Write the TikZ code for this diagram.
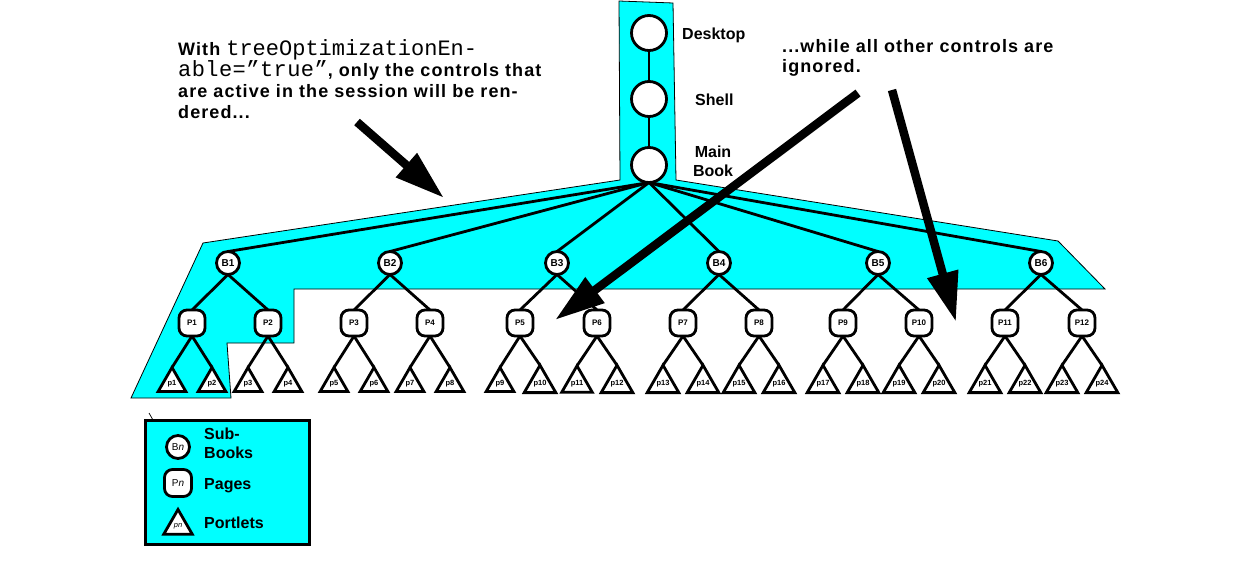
\documentclass[tikz,border=0pt]{standalone}
\usepackage{fontspec}
\setmainfont{Liberation Sans}
\setmonofont{Liberation Mono}
\newfontfamily\annotfont[LetterSpace=6]{Liberation Sans}
\newfontfamily\wmono[LetterSpace=2]{Liberation Mono}
\usetikzlibrary{shapes.geometric,arrows.meta,backgrounds}
\definecolor{cy}{RGB}{0,255,255}
\begin{document}
\begin{tikzpicture}[x=1pt,y=-1pt,
 edge/.style={line width=2.8pt},
 topnode/.style={circle,draw,line width=2.8pt,fill=white,minimum size=35pt,inner sep=0pt,outer sep=0pt},
 bnode/.style={circle,draw,line width=2.8pt,fill=white,minimum size=23pt,inner sep=0pt,outer sep=0pt,font=\fontsize{10}{10}\selectfont\bfseries},
 pnode/.style={rectangle,rounded corners=8pt,draw,line width=2.8pt,fill=white,minimum size=26pt,inner sep=0pt,outer sep=0pt,font=\fontsize{8}{8}\selectfont\bfseries},
 tnode/.style={regular polygon,regular polygon sides=3,draw,line width=2.8pt,fill=white,minimum size=32pt,inner sep=0pt,outer sep=0pt,font=\fontsize{7.5}{7.5}\selectfont\bfseries},
 lbl/.style={font=\fontsize{16}{19}\selectfont\bfseries,inner sep=0pt,anchor=base west},
 annot/.style={font=\annotfont\fontsize{18}{21}\selectfont\bfseries,inner sep=0pt,anchor=base west},
 bigarrow/.style={line width=8.5pt,-{Triangle[length=50pt,width=30pt]}},
]
\useasboundingbox (0,0) rectangle (1249,577);

% highlighted region (first thing on the background layer)
\begin{scope}[on background layer]
\fill[cy] (619,1) -- (673,3) -- (676,180) -- (1058,241) -- (1105,289) -- (294,289) -- (294,343) -- (227,343) -- (231,398) -- (131,398) -- (203,243) -- (620,180) -- cycle;
\draw[line width=0.8pt] (619,1) -- (673,3) -- (676,180) -- (1058,241) -- (1105,289) -- (294,289) -- (294,343) -- (227,343) -- (231,398) -- (131,398) -- (203,243) -- (620,180) -- cycle;
\end{scope}

% top chain
\node[topnode] (desk) at (649,33) {};
\node[topnode] (shell) at (649,99) {};
\node[topnode] (mb) at (649,165) {};
\node[lbl] (ldesk) at (682,40) {Desktop};
\node[lbl] (lshell) at (695,106) {Shell};
\node[lbl,anchor=base] (lmain) at (713,158) {Main};
\node[lbl,anchor=base] (lbook) at (713,177) {Book};

% sub-books
\foreach \i/\x in {1/228,2/390,3/557,4/719,5/878,6/1041}
  \node[bnode] (B\i) at (\x,263) {B\i};

\begin{scope}[on background layer]
  \draw[edge] (desk.south) -- (shell.north);
  \draw[edge] (shell.south) -- (mb.north);
  \foreach \i in {1,...,6} \draw[edge] (mb.south) -- (B\i.north);
\end{scope}

% pages and portlets
\foreach \i/\x/\b in {1/192/1,2/268/1,3/354/2,4/430/2,5/520/3,6/597/3,7/683/4,8/759/4,9/843/5,10/919/5,11/1005/6,12/1082/6}{
  \node[pnode] (P\i) at (\x,323) {P\i};
  \pgfmathtruncatemacro\ta{2*\i-1}
  \pgfmathtruncatemacro\tb{2*\i}
  \pgfmathsetmacro\xa{\x-20}
  \pgfmathsetmacro\xb{\x+20}
  \node[tnode] (t\ta) at (\xa,383.5) {p\ta};
  \node[tnode] (t\tb) at (\xb,383.5) {p\tb};
  \begin{scope}[on background layer]
    \draw[edge] (B\b.south) -- (P\i.north);
    \draw[edge] (P\i.south) -- (t\ta.corner 1);
    \draw[edge] (P\i.south) -- (t\tb.corner 1);
  \end{scope}
}

% annotations
\node[annot] (a1) at (178,56) {With {\fontsize{22}{22}\selectfont\ttfamily\mdseries treeOptimizationEn-}};
\node[annot] (a2) at (178,77) {{\fontsize{22}{22}\selectfont\wmono\mdseries able=”true”}, only the controls that};
\node[annot] (a3) at (178,98) {are active in the session will be ren-};
\node[annot] (a4) at (178,119) {dered...};
\node[annot] (r1) at (782,53) {...while all other controls are};
\node[annot] (r2) at (782,73) {ignored.};

% arrows
\coordinate (a1s) at (357,122); \coordinate (a1e) at (444,198);
\coordinate (a2s) at (858,93);  \coordinate (a2e) at (555,320);
\coordinate (a3s) at (892,90);  \coordinate (a3e) at (956,322);
\draw[bigarrow] (a1s) -- (a1e);
\draw[bigarrow] (a2s) -- (a2e);
\draw[bigarrow] (a3s) -- (a3e);

% legend
\coordinate (m1) at (149,413); \coordinate (m2) at (157,427);
\draw[line width=0.7pt] (m1) -- (m2);
\node[draw,line width=3pt,fill=cy,minimum width=164pt,minimum height=124pt,inner sep=0pt] (legend) at (227.5,482.5) {};
\node[bnode,minimum size=23pt,font=\fontsize{10}{10}\selectfont] (lb) at (178,447) {B\textit{n}};
\node[pnode,minimum size=27pt,font=\fontsize{10}{10}\selectfont] (lp) at (178,483) {P\textit{n}};
\node[tnode,minimum size=33pt,font=\fontsize{7.5}{7.5}\selectfont\itshape] (lt) at (178,526) {pn};
\node[lbl] (l1) at (204,439) {Sub-};
\node[lbl] (l2) at (204,458) {Books};
\node[lbl] (l3) at (204,489) {Pages};
\node[lbl] (l4) at (204,528) {Portlets};
\end{tikzpicture}
\end{document}
